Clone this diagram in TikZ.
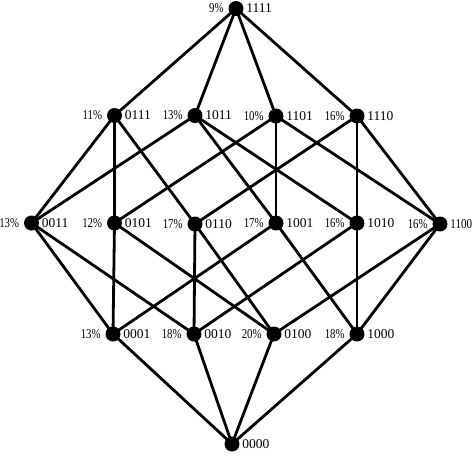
\documentclass[tikz,border=0pt]{standalone}
\usepackage{fontspec}
\setmainfont{Liberation Serif}
\tikzset{
  vtx/.style={circle,fill=black,inner sep=0pt,minimum size=15pt},
  pct/.style={inner sep=0pt,font=\fontsize{13.5}{14}\selectfont,label distance=4.5pt},
  code/.style={inner sep=0pt,font=\fontsize{13.5}{14}\selectfont,label distance=2.5pt},
  edge/.style={line width=2.8pt,black}
}
\newcommand{\vtx}[5]{%
  \node[vtx,label={[pct]left:\scalebox{0.8}[1]{#4}},label={[code]right:#5}] (#1) at (#2,#3) {};}
\begin{document}
\begin{tikzpicture}[x=1pt,y=-1pt]
\useasboundingbox (0,0) rectangle (474,475);
\vtx{v1111}{236}{8.5}{9\%}{1111}
\vtx{v0111}{114.5}{115.5}{11\%}{0111}
\vtx{v1011}{195}{115.5}{13\%}{1011}
\vtx{v1101}{276}{116}{10\%}{1101}
\vtx{v1110}{357}{116}{16\%}{1110}
\vtx{v0011}{31.5}{223}{13\%}{0011}
\vtx{v0101}{114.5}{223}{12\%}{0101}
\vtx{v0110}{195}{224}{17\%}{0110}
\vtx{v1001}{276}{223}{17\%}{1001}
\vtx{v1010}{357}{223}{16\%}{1010}
\vtx{v1100}{440}{224}{16\%}{\scalebox{0.82}[1]{1100}}
\vtx{v0001}{113}{334}{13\%}{0001}
\vtx{v0010}{194}{334}{18\%}{0010}
\vtx{v0100}{274}{334}{20\%}{0100}
\vtx{v1000}{357}{334}{18\%}{1000}
\vtx{v0000}{232}{444}{}{0000}
\foreach \a/\b in {
  v1111/v0111, v1111/v1011, v1111/v1101, v1111/v1110,
  v0111/v0011, v0111/v0101, v0111/v0110,
  v1011/v0011, v1011/v1001, v1011/v1010,
  v1101/v0101, v1101/v1001, v1101/v1100,
  v1110/v0110, v1110/v1010, v1110/v1100,
  v0011/v0001, v0011/v0010,
  v0101/v0001, v0101/v0100,
  v0110/v0010, v0110/v0100,
  v1001/v0001, v1001/v1000,
  v1010/v0010, v1010/v1000,
  v1100/v0100, v1100/v1000,
  v0001/v0000, v0010/v0000, v0100/v0000, v1000/v0000}
  \draw[edge] (\a.center) -- (\b.center);
\end{tikzpicture}
\end{document}
